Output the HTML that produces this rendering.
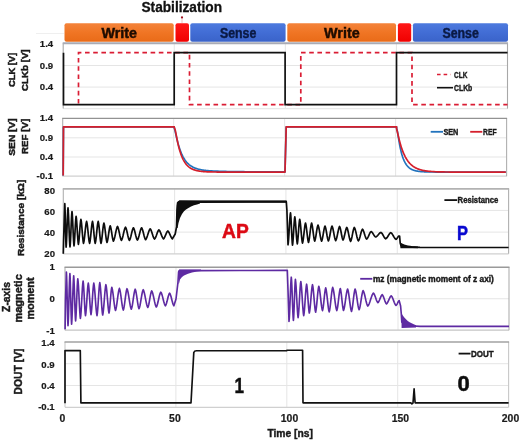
<!DOCTYPE html>
<html><head><meta charset="utf-8"><title>MTJ write/sense simulation waveforms</title>
<style>html,body{margin:0;padding:0;background:#fff;overflow:hidden;}svg{display:block;}</style>
</head><body>
<svg width="520" height="440" viewBox="0 0 520 440" font-family='"Liberation Sans", sans-serif'>
<rect width="520" height="440" fill="#fff"/>
<defs>
<linearGradient id="gOr" x1="0" y1="0" x2="0" y2="1">
 <stop offset="0" stop-color="#f4833a"/><stop offset="0.5" stop-color="#f07524"/><stop offset="1" stop-color="#e96b18"/>
</linearGradient>
<linearGradient id="gBl" x1="0" y1="0" x2="0" y2="1">
 <stop offset="0" stop-color="#4d7ade"/><stop offset="0.5" stop-color="#426dd5"/><stop offset="1" stop-color="#3a63c9"/>
</linearGradient>
<linearGradient id="gRd" x1="0" y1="0" x2="0" y2="1">
 <stop offset="0" stop-color="#ff1818"/><stop offset="1" stop-color="#f00000"/>
</linearGradient>
</defs>
<rect x="64.50" y="23.30" width="109.20" height="18.50" rx="2" fill="url(#gOr)"/>
<text x="119.30" y="37.90" font-size="14" font-weight="bold" fill="#1e0c00" stroke="#1e0c00" stroke-width="0.45" text-anchor="middle" textLength="35.6" lengthAdjust="spacingAndGlyphs">Write</text>
<rect x="175.50" y="23.30" width="13.50" height="18.50" rx="2" fill="url(#gRd)"/>
<rect x="190.30" y="23.30" width="95.30" height="18.50" rx="2" fill="url(#gBl)"/>
<text x="238.15" y="37.90" font-size="14" font-weight="bold" fill="#0b1a44" stroke="#0b1a44" stroke-width="0.45" text-anchor="middle" textLength="36.4" lengthAdjust="spacingAndGlyphs">Sense</text>
<rect x="287.30" y="23.30" width="108.70" height="18.50" rx="2" fill="url(#gOr)"/>
<text x="341.85" y="37.90" font-size="14" font-weight="bold" fill="#1e0c00" stroke="#1e0c00" stroke-width="0.45" text-anchor="middle" textLength="35.6" lengthAdjust="spacingAndGlyphs">Write</text>
<rect x="397.90" y="23.30" width="13.30" height="18.50" rx="2" fill="url(#gRd)"/>
<rect x="412.90" y="23.30" width="95.10" height="18.50" rx="2" fill="url(#gBl)"/>
<text x="460.65" y="37.90" font-size="14" font-weight="bold" fill="#0b1a44" stroke="#0b1a44" stroke-width="0.45" text-anchor="middle" textLength="36.4" lengthAdjust="spacingAndGlyphs">Sense</text>
<line x1="36" y1="33.5" x2="64" y2="33.5" stroke="#efefef" stroke-width="1"/>
<text x="141.50" y="12.40" font-size="14" font-weight="bold" fill="#111" stroke="#111" stroke-width="0.3" text-anchor="start" textLength="80.5" lengthAdjust="spacingAndGlyphs">Stabilization</text>
<line x1="182" y1="17.5" x2="182" y2="23" stroke="#eab0b0" stroke-width="0.8"/>
<circle cx="182" cy="17.4" r="1.1" fill="#a01020"/>
<line x1="63.2" y1="65.53" x2="507.5" y2="65.53" stroke="#e5e5e5" stroke-width="1"/>
<line x1="63.2" y1="87.07" x2="507.5" y2="87.07" stroke="#e5e5e5" stroke-width="1"/>
<line x1="174.28" y1="44.0" x2="174.28" y2="108.6" stroke="#e5e5e5" stroke-width="1"/>
<line x1="285.35" y1="44.0" x2="285.35" y2="108.6" stroke="#e5e5e5" stroke-width="1"/>
<line x1="396.43" y1="44.0" x2="396.43" y2="108.6" stroke="#e5e5e5" stroke-width="1"/>
<line x1="63.2" y1="108.6" x2="507.5" y2="108.6" stroke="#e8e8e8" stroke-width="1.2"/>
<line x1="63.2" y1="43.3" x2="63.2" y2="108.6" stroke="#a8a8a8" stroke-width="1.1"/>
<line x1="507.5" y1="43.3" x2="507.5" y2="108.6" stroke="#a8a8a8" stroke-width="1.1"/>
<line x1="62.7" y1="43.3" x2="508.0" y2="43.3" stroke="#a9abb5" stroke-width="2.0"/>
<text x="53.20" y="47.15" font-size="9.6" font-weight="bold" fill="#1a1a1a" stroke="#1a1a1a" stroke-width="0.2" text-anchor="end">1.4</text>
<text x="53.20" y="68.90" font-size="9.6" font-weight="bold" fill="#1a1a1a" stroke="#1a1a1a" stroke-width="0.2" text-anchor="end">0.9</text>
<text x="53.20" y="90.35" font-size="9.6" font-weight="bold" fill="#1a1a1a" stroke="#1a1a1a" stroke-width="0.2" text-anchor="end">0.4</text>
<text transform="translate(15.00,69.95) rotate(-90)" x="0" y="0" text-anchor="middle" font-size="9.2" font-weight="bold" fill="#1a1a1a" stroke="#1a1a1a" stroke-width="0.45" textLength="34.3" lengthAdjust="spacingAndGlyphs">CLK [V]</text>
<text transform="translate(27.60,70.15) rotate(-90)" x="0" y="0" text-anchor="middle" font-size="9.2" font-weight="bold" fill="#1a1a1a" stroke="#1a1a1a" stroke-width="0.45" textLength="41.5" lengthAdjust="spacingAndGlyphs">CLKb [V]</text>
<path d="M78.5,104.6 V52.7 H189.5 V104.6 H300.8 V52.7 H412.0 V104.6 H507.5" fill="none" stroke="#da1d34" stroke-width="1.7" stroke-dasharray="4.6,3.6" stroke-dashoffset="7.2"/>
<path d="M63.5,52.7 V104.6 H174.2 V52.7 H285.1 V104.6 H396.5 V52.7 H507.5" fill="none" stroke="#111" stroke-width="1.7"/>
<line x1="437" y1="74.6" x2="450.5" y2="74.6" stroke="#da1d34" stroke-width="1.5" stroke-dasharray="3.6,3"/>
<text x="454.00" y="77.60" font-size="8.6" font-weight="bold" fill="#1a1a1a" stroke="#1a1a1a" stroke-width="0.4" text-anchor="start" textLength="13.4" lengthAdjust="spacingAndGlyphs">CLK</text>
<line x1="437" y1="87.7" x2="453" y2="87.7" stroke="#111" stroke-width="1.6"/>
<text x="454.00" y="90.70" font-size="8.6" font-weight="bold" fill="#1a1a1a" stroke="#1a1a1a" stroke-width="0.4" text-anchor="start" textLength="18.3" lengthAdjust="spacingAndGlyphs">CLKb</text>
<line x1="62.7" y1="137.80" x2="506.6" y2="137.80" stroke="#e5e5e5" stroke-width="1"/>
<line x1="62.7" y1="157.00" x2="506.6" y2="157.00" stroke="#e5e5e5" stroke-width="1"/>
<line x1="173.68" y1="118.6" x2="173.68" y2="176.2" stroke="#e5e5e5" stroke-width="1"/>
<line x1="284.65" y1="118.6" x2="284.65" y2="176.2" stroke="#e5e5e5" stroke-width="1"/>
<line x1="395.62" y1="118.6" x2="395.62" y2="176.2" stroke="#e5e5e5" stroke-width="1"/>
<line x1="62.7" y1="176.2" x2="506.6" y2="176.2" stroke="#d0d0d0" stroke-width="1.2"/>
<line x1="62.7" y1="118.4" x2="62.7" y2="176.2" stroke="#b0b0b0" stroke-width="1.1"/>
<line x1="506.6" y1="118.4" x2="506.6" y2="176.2" stroke="#b0b0b0" stroke-width="1.1"/>
<line x1="62.2" y1="118.4" x2="507.1" y2="118.4" stroke="#929292" stroke-width="1.2"/>
<text x="53.00" y="121.45" font-size="9.6" font-weight="bold" fill="#1a1a1a" stroke="#1a1a1a" stroke-width="0.2" text-anchor="end">1.4</text>
<text x="53.00" y="141.05" font-size="9.6" font-weight="bold" fill="#1a1a1a" stroke="#1a1a1a" stroke-width="0.2" text-anchor="end">0.9</text>
<text x="53.00" y="160.05" font-size="9.6" font-weight="bold" fill="#1a1a1a" stroke="#1a1a1a" stroke-width="0.2" text-anchor="end">0.4</text>
<text x="53.00" y="179.35" font-size="9.6" font-weight="bold" fill="#1a1a1a" stroke="#1a1a1a" stroke-width="0.2" text-anchor="end">-0.1</text>
<text transform="translate(15.30,137.00) rotate(-90)" x="0" y="0" text-anchor="middle" font-size="9.2" font-weight="bold" fill="#1a1a1a" stroke="#1a1a1a" stroke-width="0.45" textLength="37.5" lengthAdjust="spacingAndGlyphs">SEN [V]</text>
<text transform="translate(27.90,136.40) rotate(-90)" x="0" y="0" text-anchor="middle" font-size="9.2" font-weight="bold" fill="#1a1a1a" stroke="#1a1a1a" stroke-width="0.45" textLength="35.2" lengthAdjust="spacingAndGlyphs">REF [V]</text>
<path d="M63.2,175.6 L63.5,126.9 L174.3,126.9 L174.30,128.38 L174.70,129.50 L175.10,130.98 L175.50,132.71 L175.90,134.52 L176.30,136.34 L176.70,138.09 L177.10,139.78 L177.50,141.38 L177.90,142.91 L178.30,144.36 L178.70,145.73 L179.10,147.03 L179.50,148.26 L179.90,149.43 L180.30,150.54 L180.70,151.59 L181.10,152.59 L181.50,153.54 L181.90,154.43 L182.30,155.28 L182.70,156.09 L183.10,156.86 L183.50,157.58 L183.90,158.27 L184.30,158.92 L184.70,159.54 L185.10,160.13 L185.50,160.68 L185.90,161.21 L186.30,161.71 L186.70,162.19 L187.10,162.64 L187.50,163.07 L187.90,163.48 L188.30,163.86 L188.70,164.23 L189.10,164.58 L189.50,164.91 L189.90,165.22 L190.30,165.52 L190.70,165.80 L191.10,166.07 L191.50,166.32 L191.90,166.56 L192.30,166.79 L192.70,167.01 L193.10,167.22 L193.50,167.42 L193.90,167.60 L194.30,167.78 L194.70,167.95 L195.10,168.11 L195.50,168.27 L195.90,168.41 L196.30,168.55 L196.70,168.68 L197.10,168.81 L197.50,168.93 L197.90,169.04 L198.30,169.15 L198.70,169.25 L199.10,169.35 L199.50,169.45 L199.90,169.53 L200.30,169.62 L200.70,169.70 L201.10,169.78 L201.50,169.85 L201.90,169.92 L202.30,169.99 L202.70,170.05 L203.10,170.11 L203.50,170.17 L203.90,170.23 L204.30,170.28 L204.70,170.33 L205.10,170.38 L205.50,170.43 L205.90,170.47 L206.30,170.52 L206.70,170.56 L207.10,170.60 L207.50,170.63 L207.90,170.67 L208.30,170.70 L208.70,170.74 L209.10,170.77 L209.50,170.80 L211.50,170.94 L213.50,171.05 L215.50,171.14 L217.50,171.22 L219.50,171.29 L221.50,171.35 L223.50,171.40 L225.50,171.45 L227.50,171.49 L229.50,171.52 L231.50,171.56 L233.50,171.59 L235.50,171.62 L237.50,171.64 L239.50,171.67 L241.50,171.69 L243.50,171.71 L245.50,171.73 L247.50,171.75 L249.50,171.77 L251.50,171.78 L253.50,171.80 L255.50,171.82 L257.50,171.83 L259.50,171.84 L261.50,171.86 L263.50,171.87 L265.50,171.88 L267.50,171.89 L269.50,171.90 L271.50,171.91 L273.50,171.92 L275.50,171.93 L277.50,171.94 L279.50,171.95 L281.50,171.95 L283.50,171.96 L285.0,172.1 L286.2,126.9 L396.6,126.9 L396.60,128.28 L397.00,129.50 L397.40,131.31 L397.80,133.60 L398.20,136.11 L398.60,138.66 L399.00,141.12 L399.40,143.43 L399.80,145.59 L400.20,147.58 L400.60,149.43 L401.00,151.14 L401.40,152.72 L401.80,154.18 L402.20,155.52 L402.60,156.77 L403.00,157.91 L403.40,158.98 L403.80,159.95 L404.20,160.86 L404.60,161.70 L405.00,162.47 L405.40,163.18 L405.80,163.84 L406.20,164.45 L406.60,165.01 L407.00,165.53 L407.40,166.02 L407.80,166.46 L408.20,166.87 L408.60,167.25 L409.00,167.60 L409.40,167.93 L409.80,168.23 L410.20,168.51 L410.60,168.77 L411.00,169.00 L411.40,169.22 L411.80,169.43 L412.20,169.62 L412.60,169.79 L413.00,169.95 L413.40,170.10 L413.80,170.24 L414.20,170.37 L414.60,170.49 L415.00,170.60 L415.40,170.71 L415.80,170.80 L416.20,170.89 L416.60,170.97 L417.00,171.05 L417.40,171.12 L417.80,171.18 L418.20,171.24 L418.60,171.30 L419.00,171.35 L419.40,171.40 L419.80,171.45 L420.20,171.49 L420.60,171.53 L421.00,171.56 L421.40,171.60 L421.80,171.63 L422.20,171.66 L422.60,171.68 L423.00,171.71 L423.40,171.73 L423.80,171.76 L424.20,171.78 L424.60,171.80 L425.00,171.81 L425.40,171.83 L425.80,171.85 L426.20,171.86 L426.60,171.87 L427.00,171.89 L427.40,171.90 L427.80,171.91 L428.20,171.92 L428.60,171.93 L429.00,171.94 L429.40,171.95 L429.80,171.96 L430.20,171.96 L430.60,171.97 L431.00,171.98 L431.40,171.98 L431.80,171.99 L433.80,172.02 L435.80,172.03 L437.80,172.05 L439.80,172.06 L441.80,172.07 L443.80,172.07 L445.80,172.08 L447.80,172.08 L449.80,172.09 L451.80,172.09 L453.80,172.09 L455.80,172.09 L457.80,172.09 L459.80,172.09 L461.80,172.10 L463.80,172.10 L465.80,172.10 L467.80,172.10 L469.80,172.10 L471.80,172.10 L473.80,172.10 L475.80,172.10 L477.80,172.10 L479.80,172.10 L481.80,172.10 L483.80,172.10 L485.80,172.10 L487.80,172.10 L489.80,172.10 L491.80,172.10 L493.80,172.10 L495.80,172.10 L497.80,172.10 L499.80,172.10 L501.80,172.10 L503.80,172.10 L505.80,172.10" fill="none" stroke="#2273bd" stroke-width="1.7" stroke-linejoin="round"/>
<path d="M63.2,175.6 L63.5,126.9 L174.3,126.9 L174.30,127.67 L174.70,128.42 L175.10,129.63 L175.50,131.31 L175.90,133.30 L176.30,135.41 L176.70,137.53 L177.10,139.58 L177.50,141.53 L177.90,143.38 L178.30,145.11 L178.70,146.75 L179.10,148.28 L179.50,149.72 L179.90,151.08 L180.30,152.35 L180.70,153.55 L181.10,154.67 L181.50,155.73 L181.90,156.72 L182.30,157.65 L182.70,158.53 L183.10,159.35 L183.50,160.12 L183.90,160.85 L184.30,161.53 L184.70,162.17 L185.10,162.77 L185.50,163.34 L185.90,163.87 L186.30,164.37 L186.70,164.84 L187.10,165.28 L187.50,165.69 L187.90,166.08 L188.30,166.44 L188.70,166.79 L189.10,167.11 L189.50,167.41 L189.90,167.69 L190.30,167.96 L190.70,168.21 L191.10,168.45 L191.50,168.67 L191.90,168.88 L192.30,169.07 L192.70,169.26 L193.10,169.43 L193.50,169.59 L193.90,169.74 L194.30,169.88 L194.70,170.02 L195.10,170.14 L195.50,170.26 L195.90,170.37 L196.30,170.48 L196.70,170.58 L197.10,170.67 L197.50,170.76 L197.90,170.84 L198.30,170.91 L198.70,170.99 L199.10,171.05 L199.50,171.12 L199.90,171.18 L200.30,171.23 L200.70,171.28 L201.10,171.33 L201.50,171.38 L201.90,171.42 L202.30,171.47 L202.70,171.50 L203.10,171.54 L203.50,171.57 L203.90,171.61 L204.30,171.64 L204.70,171.66 L205.10,171.69 L205.50,171.72 L205.90,171.74 L206.30,171.76 L206.70,171.78 L207.10,171.80 L207.50,171.82 L207.90,171.84 L208.30,171.85 L208.70,171.87 L209.10,171.88 L209.50,171.89 L211.50,171.95 L213.50,171.99 L215.50,172.02 L217.50,172.04 L219.50,172.06 L221.50,172.07 L223.50,172.08 L225.50,172.08 L227.50,172.09 L229.50,172.09 L231.50,172.09 L233.50,172.10 L235.50,172.10 L237.50,172.10 L239.50,172.10 L241.50,172.10 L243.50,172.10 L245.50,172.10 L247.50,172.10 L249.50,172.10 L251.50,172.10 L253.50,172.10 L255.50,172.10 L257.50,172.10 L259.50,172.10 L261.50,172.10 L263.50,172.10 L265.50,172.10 L267.50,172.10 L269.50,172.10 L271.50,172.10 L273.50,172.10 L275.50,172.10 L277.50,172.10 L279.50,172.10 L281.50,172.10 L283.50,172.10 L285.0,172.1 L286.2,126.9 L396.6,126.9 L396.60,129.07 L397.00,130.42 L397.40,132.03 L397.80,133.77 L398.20,135.53 L398.60,137.25 L399.00,138.92 L399.40,140.51 L399.80,142.03 L400.20,143.48 L400.60,144.85 L401.00,146.17 L401.40,147.42 L401.80,148.61 L402.20,149.74 L402.60,150.81 L403.00,151.84 L403.40,152.82 L403.80,153.75 L404.20,154.63 L404.60,155.47 L405.00,156.27 L405.40,157.04 L405.80,157.76 L406.20,158.45 L406.60,159.11 L407.00,159.74 L407.40,160.33 L407.80,160.90 L408.20,161.44 L408.60,161.95 L409.00,162.44 L409.40,162.91 L409.80,163.35 L410.20,163.77 L410.60,164.17 L411.00,164.55 L411.40,164.92 L411.80,165.26 L412.20,165.59 L412.60,165.91 L413.00,166.21 L413.40,166.49 L413.80,166.76 L414.20,167.02 L414.60,167.26 L415.00,167.49 L415.40,167.72 L415.80,167.93 L416.20,168.13 L416.60,168.32 L417.00,168.50 L417.40,168.68 L417.80,168.84 L418.20,169.00 L418.60,169.15 L419.00,169.29 L419.40,169.43 L419.80,169.55 L420.20,169.68 L420.60,169.79 L421.00,169.90 L421.40,170.01 L421.80,170.11 L422.20,170.21 L422.60,170.30 L423.00,170.38 L423.40,170.47 L423.80,170.55 L424.20,170.62 L424.60,170.69 L425.00,170.76 L425.40,170.82 L425.80,170.89 L426.20,170.94 L426.60,171.00 L427.00,171.05 L427.40,171.10 L427.80,171.15 L428.20,171.20 L428.60,171.24 L429.00,171.28 L429.40,171.32 L429.80,171.36 L430.20,171.39 L430.60,171.43 L431.00,171.46 L431.40,171.49 L431.80,171.52 L433.80,171.65 L435.80,171.75 L437.80,171.82 L439.80,171.88 L441.80,171.93 L443.80,171.97 L445.80,172.00 L447.80,172.02 L449.80,172.04 L451.80,172.05 L453.80,172.06 L455.80,172.07 L457.80,172.08 L459.80,172.08 L461.80,172.09 L463.80,172.09 L465.80,172.09 L467.80,172.09 L469.80,172.09 L471.80,172.10 L473.80,172.10 L475.80,172.10 L477.80,172.10 L479.80,172.10 L481.80,172.10 L483.80,172.10 L485.80,172.10 L487.80,172.10 L489.80,172.10 L491.80,172.10 L493.80,172.10 L495.80,172.10 L497.80,172.10 L499.80,172.10 L501.80,172.10 L503.80,172.10 L505.80,172.10" fill="none" stroke="#d51f2b" stroke-width="1.7" stroke-linejoin="round"/>
<line x1="430.7" y1="131.8" x2="443" y2="131.8" stroke="#2273bd" stroke-width="1.8"/>
<text x="443.40" y="134.80" font-size="8.6" font-weight="bold" fill="#1a1a1a" stroke="#1a1a1a" stroke-width="0.4" text-anchor="start" textLength="15" lengthAdjust="spacingAndGlyphs">SEN</text>
<line x1="470.2" y1="131.8" x2="482.3" y2="131.8" stroke="#d51f2b" stroke-width="1.8"/>
<text x="483.00" y="134.80" font-size="8.6" font-weight="bold" fill="#1a1a1a" stroke="#1a1a1a" stroke-width="0.4" text-anchor="start" textLength="13.6" lengthAdjust="spacingAndGlyphs">REF</text>
<line x1="63.3" y1="210.40" x2="508.6" y2="210.40" stroke="#e5e5e5" stroke-width="1"/>
<line x1="63.3" y1="232.10" x2="508.6" y2="232.10" stroke="#e5e5e5" stroke-width="1"/>
<line x1="174.62" y1="188.7" x2="174.62" y2="253.8" stroke="#e5e5e5" stroke-width="1"/>
<line x1="285.95" y1="188.7" x2="285.95" y2="253.8" stroke="#e5e5e5" stroke-width="1"/>
<line x1="397.28" y1="188.7" x2="397.28" y2="253.8" stroke="#e5e5e5" stroke-width="1"/>
<line x1="63.3" y1="253.8" x2="508.6" y2="253.8" stroke="#d0d0d0" stroke-width="1.2"/>
<line x1="63.3" y1="188.8" x2="63.3" y2="253.8" stroke="#b0b0b0" stroke-width="1.1"/>
<line x1="508.6" y1="188.8" x2="508.6" y2="253.8" stroke="#b0b0b0" stroke-width="1.1"/>
<line x1="62.8" y1="188.8" x2="509.1" y2="188.8" stroke="#b2b2b2" stroke-width="1.8"/>
<text x="55.00" y="193.95" font-size="9.6" font-weight="bold" fill="#1a1a1a" stroke="#1a1a1a" stroke-width="0.2" text-anchor="end">80</text>
<text x="55.00" y="215.25" font-size="9.6" font-weight="bold" fill="#1a1a1a" stroke="#1a1a1a" stroke-width="0.2" text-anchor="end">60</text>
<text x="55.00" y="236.45" font-size="9.6" font-weight="bold" fill="#1a1a1a" stroke="#1a1a1a" stroke-width="0.2" text-anchor="end">40</text>
<text x="55.00" y="257.05" font-size="9.6" font-weight="bold" fill="#1a1a1a" stroke="#1a1a1a" stroke-width="0.2" text-anchor="end">20</text>
<text transform="translate(23.60,217.90) rotate(-90)" x="0" y="0" text-anchor="middle" font-size="9.8" font-weight="bold" fill="#1a1a1a" stroke="#1a1a1a" stroke-width="0.45" textLength="76.3" lengthAdjust="spacingAndGlyphs">Resistance [kΩ]</text>
<path d="M63.3,253.8 L63.6,240 L64.80,203.70 L64.96,206.68 L65.12,211.65 L65.29,218.14 L65.45,225.45 L65.61,232.76 L65.77,239.25 L65.94,244.22 L66.10,247.20 L66.34,244.50 L66.57,240.00 L66.81,234.12 L67.05,227.50 L67.29,220.88 L67.53,215.00 L67.76,210.50 L68.00,207.80 L68.25,210.48 L68.50,214.96 L68.75,220.81 L69.00,227.40 L69.25,233.99 L69.50,239.84 L69.75,244.32 L70.00,247.00 L70.25,244.57 L70.50,240.51 L70.75,235.22 L71.00,229.25 L71.25,223.28 L71.50,217.99 L71.75,213.93 L72.00,211.50 L72.25,213.86 L72.50,217.78 L72.75,222.92 L73.00,228.70 L73.25,234.48 L73.50,239.62 L73.75,243.54 L74.00,245.90 L74.26,243.87 L74.53,240.49 L74.79,236.08 L75.05,231.10 L75.31,226.12 L75.57,221.71 L75.84,218.33 L76.10,216.30 L76.39,218.22 L76.67,221.43 L76.96,225.63 L77.25,230.35 L77.54,235.07 L77.83,239.27 L78.11,242.48 L78.40,244.40 L78.71,242.68 L79.03,239.81 L79.34,236.07 L79.65,231.85 L79.96,227.63 L80.28,223.89 L80.59,221.02 L80.90,219.30 L81.23,220.95 L81.55,223.70 L81.88,227.30 L82.20,231.35 L82.53,235.40 L82.85,239.00 L83.17,241.75 L83.50,243.40 L83.89,241.89 L84.28,239.38 L84.66,236.10 L85.05,232.40 L85.44,228.70 L85.82,225.42 L86.21,222.91 L86.60,221.40 L86.97,222.91 L87.35,225.42 L87.72,228.70 L88.10,232.40 L88.47,236.10 L88.85,239.38 L89.22,241.89 L89.60,243.40 L89.96,241.89 L90.32,239.38 L90.69,236.10 L91.05,232.40 L91.41,228.70 L91.78,225.42 L92.14,222.91 L92.50,221.40 L92.84,222.91 L93.17,225.42 L93.51,228.70 L93.85,232.40 L94.19,236.10 L94.53,239.38 L94.86,241.89 L95.20,243.40 L95.58,241.89 L95.95,239.38 L96.33,236.10 L96.70,232.40 L97.08,228.70 L97.45,225.42 L97.83,222.91 L98.20,221.40 L98.55,222.91 L98.90,225.42 L99.25,228.70 L99.60,232.40 L99.95,236.10 L100.30,239.38 L100.65,241.89 L101.00,243.40 L101.36,242.01 L101.72,239.69 L102.09,236.66 L102.45,233.25 L102.81,229.84 L103.18,226.81 L103.54,224.49 L103.90,223.10 L104.29,224.42 L104.68,226.63 L105.06,229.51 L105.45,232.75 L105.84,235.99 L106.22,238.87 L106.61,241.08 L107.00,242.40 L107.40,241.26 L107.80,239.37 L108.20,236.89 L108.60,234.10 L109.00,231.31 L109.40,228.83 L109.80,226.94 L110.20,225.80 L110.60,226.85 L111.00,228.60 L111.40,230.88 L111.80,233.45 L112.20,236.02 L112.60,238.30 L113.00,240.05 L113.40,241.10 L113.91,240.10 L114.43,238.43 L114.94,236.25 L115.45,233.80 L115.96,231.35 L116.47,229.17 L116.99,227.50 L117.50,226.50 L117.99,227.45 L118.47,229.04 L118.96,231.11 L119.45,233.45 L119.94,235.79 L120.43,237.86 L120.91,239.45 L121.40,240.40 L121.91,239.50 L122.43,237.99 L122.94,236.02 L123.45,233.80 L123.96,231.58 L124.47,229.61 L124.99,228.10 L125.50,227.20 L125.99,228.10 L126.47,229.61 L126.96,231.58 L127.45,233.80 L127.94,236.02 L128.43,237.99 L128.91,239.50 L129.40,240.40 L129.90,239.54 L130.40,238.10 L130.90,236.22 L131.40,234.10 L131.90,231.98 L132.40,230.10 L132.90,228.66 L133.40,227.80 L133.90,228.64 L134.40,230.05 L134.90,231.88 L135.40,233.95 L135.90,236.02 L136.40,237.85 L136.90,239.26 L137.40,240.10 L137.93,239.26 L138.45,237.85 L138.97,236.02 L139.50,233.95 L140.03,231.88 L140.55,230.05 L141.07,228.64 L141.60,227.80 L142.10,228.62 L142.60,229.97 L143.10,231.75 L143.60,233.75 L144.10,235.75 L144.60,237.53 L145.10,238.88 L145.60,239.70 L146.17,238.95 L146.75,237.71 L147.32,236.08 L147.90,234.25 L148.47,232.42 L149.05,230.79 L149.62,229.55 L150.20,228.80 L150.74,229.50 L151.27,230.66 L151.81,232.19 L152.35,233.90 L152.89,235.61 L153.43,237.14 L153.96,238.30 L154.50,239.00 L155.05,238.38 L155.60,237.34 L156.15,235.98 L156.70,234.45 L157.25,232.92 L157.80,231.56 L158.35,230.52 L158.90,229.90 L159.47,230.51 L160.05,231.53 L160.62,232.85 L161.20,234.35 L161.78,235.85 L162.35,237.17 L162.93,238.19 L163.50,238.80 L164.04,238.27 L164.57,237.38 L165.11,236.21 L165.65,234.90 L166.19,233.59 L166.73,232.42 L167.26,231.53 L167.80,231.00 L168.38,231.53 L168.95,232.42 L169.53,233.59 L170.10,234.90 L170.68,236.21 L171.25,237.38 L171.83,238.27 L172.40,238.80 L175.2,234 L176.5,227 L177.0,210 L177.6,203 L179.5,201.4 L200,201.7 L230,201.7 L260,201.7 L286.3,201.7 L286.9,210 L288.0,244.8 L288.00,244.80 L288.31,242.61 L288.62,238.95 L288.94,234.18 L289.25,228.80 L289.56,223.42 L289.88,218.65 L290.19,214.99 L290.50,212.80 L290.75,215.02 L291.00,218.72 L291.25,223.55 L291.50,229.00 L291.75,234.45 L292.00,239.28 L292.25,242.98 L292.50,245.20 L292.79,243.26 L293.07,240.03 L293.36,235.81 L293.65,231.05 L293.94,226.29 L294.23,222.07 L294.51,218.84 L294.80,216.90 L295.11,218.74 L295.43,221.81 L295.74,225.83 L296.05,230.35 L296.36,234.87 L296.68,238.89 L296.99,241.96 L297.30,243.80 L297.60,242.12 L297.90,239.32 L298.20,235.67 L298.50,231.55 L298.80,227.43 L299.10,223.78 L299.40,220.98 L299.70,219.30 L300.05,220.93 L300.40,223.65 L300.75,227.20 L301.10,231.20 L301.45,235.20 L301.80,238.75 L302.15,241.47 L302.50,243.10 L302.88,241.73 L303.25,239.45 L303.62,236.46 L304.00,233.10 L304.38,229.74 L304.75,226.75 L305.12,224.47 L305.50,223.10 L305.88,224.42 L306.25,226.63 L306.62,229.51 L307.00,232.75 L307.38,235.99 L307.75,238.87 L308.12,241.08 L308.50,242.40 L308.89,241.08 L309.27,238.87 L309.66,235.99 L310.05,232.75 L310.44,229.51 L310.83,226.63 L311.21,224.42 L311.60,223.10 L311.99,224.33 L312.38,226.39 L312.76,229.07 L313.15,232.10 L313.54,235.13 L313.93,237.81 L314.31,239.87 L314.70,241.10 L315.11,240.00 L315.52,238.18 L315.94,235.79 L316.35,233.10 L316.76,230.41 L317.18,228.02 L317.59,226.20 L318.00,225.10 L318.45,226.20 L318.90,228.02 L319.35,230.41 L319.80,233.10 L320.25,235.79 L320.70,238.18 L321.15,240.00 L321.60,241.10 L322.03,240.07 L322.45,238.36 L322.88,236.12 L323.30,233.60 L323.73,231.08 L324.15,228.84 L324.57,227.13 L325.00,226.10 L325.43,227.11 L325.85,228.80 L326.27,231.01 L326.70,233.50 L327.12,235.99 L327.55,238.20 L327.97,239.89 L328.40,240.90 L328.85,239.89 L329.30,238.20 L329.75,235.99 L330.20,233.50 L330.65,231.01 L331.10,228.80 L331.55,227.11 L332.00,226.10 L332.46,227.10 L332.93,228.77 L333.39,230.95 L333.85,233.40 L334.31,235.85 L334.77,238.03 L335.24,239.70 L335.70,240.70 L336.19,239.73 L336.68,238.11 L337.16,235.99 L337.65,233.60 L338.14,231.21 L338.62,229.09 L339.11,227.47 L339.60,226.50 L340.03,227.42 L340.45,228.97 L340.88,230.98 L341.30,233.25 L341.73,235.52 L342.15,237.53 L342.57,239.08 L343.00,240.00 L343.48,239.14 L343.95,237.70 L344.43,235.82 L344.90,233.70 L345.38,231.58 L345.85,229.70 L346.32,228.26 L346.80,227.40 L347.28,228.36 L347.75,229.96 L348.23,232.05 L348.70,234.40 L349.18,236.75 L349.65,238.84 L350.12,240.44 L350.60,241.40 L351.06,240.44 L351.53,238.84 L351.99,236.75 L352.45,234.40 L352.91,232.05 L353.38,229.96 L353.84,228.36 L354.30,227.40 L354.81,228.32 L355.32,229.87 L355.84,231.88 L356.35,234.15 L356.86,236.42 L357.38,238.43 L357.89,239.98 L358.40,240.90 L358.91,240.10 L359.42,238.76 L359.94,237.02 L360.45,235.05 L360.96,233.08 L361.48,231.34 L361.99,230.00 L362.50,229.20 L363.01,229.88 L363.52,231.01 L364.04,232.49 L364.55,234.15 L365.06,235.81 L365.58,237.29 L366.09,238.42 L366.60,239.10 L367.16,238.58 L367.73,237.71 L368.29,236.58 L368.85,235.30 L369.41,234.02 L369.98,232.89 L370.54,232.02 L371.10,231.50 L371.68,231.88 L372.25,232.50 L372.82,233.33 L373.40,234.25 L373.98,235.17 L374.55,236.00 L375.12,236.62 L375.70,237.00 L376.35,236.68 L377.00,236.16 L377.65,235.47 L378.30,234.70 L378.95,233.93 L379.60,233.24 L380.25,232.72 L380.90,232.40 L381.50,232.84 L382.10,233.57 L382.70,234.52 L383.30,235.60 L383.90,236.68 L384.50,237.63 L385.10,238.36 L385.70,238.80 L386.34,238.38 L386.98,237.67 L387.61,236.74 L388.25,235.70 L388.89,234.66 L389.52,233.73 L390.16,233.02 L390.80,232.60 L391.45,233.07 L392.10,233.84 L392.75,234.86 L393.40,236.00 L394.05,237.14 L394.70,238.16 L395.35,238.93 L396.00,239.40 L396.36,239.17 L396.73,238.78 L397.09,238.27 L397.45,237.70 L397.81,237.13 L398.17,236.62 L398.54,236.23 L398.90,236.00 L399.6,236 L400.2,243 L401,245.8 L405,246.8 L420,247.4 L508.6,247.5" fill="none" stroke="#0d0d0d" stroke-width="1.7" stroke-linejoin="round"/>
<path d="M176.6,228 L176.8,205 L177.8,201.5 L179.5,200.4 L200,200.6 L200,203.6 L197,204.4 L194,205.3 L191,206.4 L188,208.2 L186,209.4 L184,211.2 L182,214 L180,218 L178.5,223 L177.6,228 Z" fill="#0d0d0d"/>
<path d="M200,200.6 L286.6,200.6 L286.6,202.8 L200,202.9 Z" fill="#0d0d0d"/>
<path d="M400.2,242.5 L400.4,248.3 L418,248.3 L418,246.6 C410,246 405,245.5 401.2,243 Z" fill="#0d0d0d"/>
<line x1="444.4" y1="200.1" x2="457.2" y2="200.1" stroke="#111" stroke-width="1.8"/>
<text x="457.60" y="203.20" font-size="8.5" font-weight="bold" fill="#1a1a1a" stroke="#1a1a1a" stroke-width="0.4" text-anchor="start" textLength="40.7" lengthAdjust="spacingAndGlyphs">Resistance</text>
<text x="222.10" y="238.00" font-size="20.5" font-weight="bold" fill="#dc0a14" stroke="#dc0a14" stroke-width="0.5" text-anchor="start" textLength="26.7" lengthAdjust="spacingAndGlyphs">AP</text>
<text x="456.90" y="240.00" font-size="21" font-weight="bold" fill="#0808d0" stroke="#0808d0" stroke-width="0.5" text-anchor="start" textLength="11" lengthAdjust="spacingAndGlyphs">P</text>
<line x1="65.0" y1="298.75" x2="509.0" y2="298.75" stroke="#e5e5e5" stroke-width="1"/>
<line x1="176.00" y1="267.3" x2="176.00" y2="330.2" stroke="#e5e5e5" stroke-width="1"/>
<line x1="287.00" y1="267.3" x2="287.00" y2="330.2" stroke="#e5e5e5" stroke-width="1"/>
<line x1="398.00" y1="267.3" x2="398.00" y2="330.2" stroke="#e5e5e5" stroke-width="1"/>
<line x1="65.0" y1="330.2" x2="509.0" y2="330.2" stroke="#c4c4c4" stroke-width="1.2"/>
<line x1="65.0" y1="267.15" x2="65.0" y2="330.2" stroke="#b0b0b0" stroke-width="1.1"/>
<line x1="509.0" y1="267.15" x2="509.0" y2="330.2" stroke="#b0b0b0" stroke-width="1.1"/>
<line x1="64.5" y1="267.15" x2="509.5" y2="267.15" stroke="#9a9a9a" stroke-width="1.5"/>
<text x="54.80" y="270.35" font-size="9.6" font-weight="bold" fill="#1a1a1a" stroke="#1a1a1a" stroke-width="0.2" text-anchor="end">1</text>
<text x="54.80" y="302.25" font-size="9.6" font-weight="bold" fill="#1a1a1a" stroke="#1a1a1a" stroke-width="0.2" text-anchor="end">0</text>
<text x="54.80" y="333.65" font-size="9.6" font-weight="bold" fill="#1a1a1a" stroke="#1a1a1a" stroke-width="0.2" text-anchor="end">-1</text>
<text transform="translate(9.80,297.00) rotate(-90)" x="0" y="0" text-anchor="middle" font-size="10.3" font-weight="bold" fill="#1a1a1a" stroke="#1a1a1a" stroke-width="0.45" textLength="29.9" lengthAdjust="spacingAndGlyphs">Z-axis</text>
<text transform="translate(22.20,298.40) rotate(-90)" x="0" y="0" text-anchor="middle" font-size="10.3" font-weight="bold" fill="#1a1a1a" stroke="#1a1a1a" stroke-width="0.45" textLength="48.4" lengthAdjust="spacingAndGlyphs">magnetic</text>
<text transform="translate(34.20,298.50) rotate(-90)" x="0" y="0" text-anchor="middle" font-size="10.3" font-weight="bold" fill="#1a1a1a" stroke="#1a1a1a" stroke-width="0.45" textLength="42.1" lengthAdjust="spacingAndGlyphs">moment</text>
<path d="M65.1,329.3 L65.5,300 L66.40,272.00 L66.60,275.68 L66.80,281.81 L67.00,289.82 L67.20,298.85 L67.40,307.88 L67.60,315.89 L67.80,322.02 L68.00,325.70 L68.24,322.13 L68.47,316.18 L68.71,308.41 L68.95,299.65 L69.19,290.89 L69.43,283.12 L69.66,277.17 L69.90,273.60 L70.11,277.06 L70.33,282.83 L70.54,290.36 L70.75,298.85 L70.96,307.34 L71.17,314.87 L71.39,320.64 L71.60,324.10 L71.86,320.80 L72.12,315.29 L72.39,308.10 L72.65,300.00 L72.91,291.90 L73.17,284.71 L73.44,279.20 L73.70,275.90 L73.94,278.98 L74.17,284.12 L74.41,290.83 L74.65,298.40 L74.89,305.97 L75.12,312.68 L75.36,317.82 L75.60,320.90 L75.88,318.02 L76.15,313.21 L76.42,306.93 L76.70,299.85 L76.97,292.77 L77.25,286.49 L77.52,281.68 L77.80,278.80 L78.12,281.52 L78.45,286.05 L78.78,291.98 L79.10,298.65 L79.42,305.32 L79.75,311.25 L80.08,315.78 L80.40,318.50 L80.74,315.93 L81.08,311.65 L81.41,306.05 L81.75,299.75 L82.09,293.45 L82.42,287.85 L82.76,283.57 L83.10,281.00 L83.40,283.38 L83.70,287.34 L84.00,292.52 L84.30,298.35 L84.60,304.18 L84.90,309.36 L85.20,313.32 L85.50,315.70 L85.85,313.47 L86.20,309.74 L86.55,304.88 L86.90,299.40 L87.25,293.92 L87.60,289.06 L87.95,285.33 L88.30,283.10 L88.64,285.26 L88.97,288.85 L89.31,293.55 L89.65,298.85 L89.99,304.15 L90.33,308.85 L90.66,312.44 L91.00,314.60 L91.35,312.44 L91.70,308.85 L92.05,304.15 L92.40,298.85 L92.75,293.55 L93.10,288.85 L93.45,285.26 L93.80,283.10 L94.20,285.33 L94.60,289.06 L95.00,293.92 L95.40,299.40 L95.80,304.88 L96.20,309.74 L96.60,313.47 L97.00,315.70 L97.35,313.43 L97.70,309.65 L98.05,304.71 L98.40,299.15 L98.75,293.59 L99.10,288.65 L99.45,284.87 L99.80,282.60 L100.16,284.82 L100.53,288.52 L100.89,293.35 L101.25,298.80 L101.61,304.25 L101.97,309.08 L102.34,312.78 L102.70,315.00 L103.10,312.92 L103.50,309.46 L103.90,304.94 L104.30,299.85 L104.70,294.76 L105.10,290.24 L105.50,286.78 L105.90,284.70 L106.29,286.64 L106.68,289.87 L107.06,294.09 L107.45,298.85 L107.84,303.61 L108.22,307.83 L108.61,311.06 L109.00,313.00 L109.35,311.24 L109.70,308.30 L110.05,304.47 L110.40,300.15 L110.75,295.83 L111.10,292.00 L111.45,289.06 L111.80,287.30 L112.26,288.88 L112.72,291.52 L113.19,294.97 L113.65,298.85 L114.11,302.73 L114.58,306.18 L115.04,308.82 L115.50,310.40 L115.99,308.89 L116.47,306.38 L116.96,303.10 L117.45,299.40 L117.94,295.70 L118.43,292.42 L118.91,289.91 L119.40,288.40 L119.89,289.89 L120.38,292.36 L120.86,295.60 L121.35,299.25 L121.84,302.90 L122.33,306.14 L122.81,308.61 L123.30,310.10 L123.76,308.63 L124.22,306.19 L124.69,303.00 L125.15,299.40 L125.61,295.80 L126.08,292.61 L126.54,290.17 L127.00,288.70 L127.54,290.10 L128.07,292.45 L128.61,295.50 L129.15,298.95 L129.69,302.40 L130.23,305.45 L130.76,307.80 L131.30,309.20 L131.79,307.83 L132.28,305.55 L132.76,302.56 L133.25,299.20 L133.74,295.84 L134.22,292.85 L134.71,290.57 L135.20,289.20 L135.67,290.54 L136.15,292.76 L136.62,295.67 L137.10,298.95 L137.57,302.23 L138.05,305.14 L138.53,307.36 L139.00,308.70 L139.53,307.40 L140.05,305.23 L140.57,302.39 L141.10,299.20 L141.62,296.01 L142.15,293.17 L142.67,291.00 L143.20,289.70 L143.77,290.92 L144.35,292.95 L144.93,295.61 L145.50,298.60 L146.07,301.59 L146.65,304.25 L147.23,306.28 L147.80,307.50 L148.29,306.36 L148.78,304.47 L149.26,301.99 L149.75,299.20 L150.24,296.41 L150.72,293.93 L151.21,292.04 L151.70,290.90 L152.27,292.00 L152.85,293.84 L153.43,296.24 L154.00,298.95 L154.57,301.66 L155.15,304.06 L155.73,305.90 L156.30,307.00 L156.86,305.98 L157.43,304.28 L157.99,302.06 L158.55,299.55 L159.11,297.04 L159.68,294.82 L160.24,293.12 L160.80,292.10 L161.38,293.04 L161.95,294.60 L162.53,296.65 L163.10,298.95 L163.68,301.25 L164.25,303.30 L164.83,304.86 L165.40,305.80 L165.93,304.93 L166.45,303.48 L166.97,301.59 L167.50,299.45 L168.03,297.31 L168.55,295.42 L169.07,293.97 L169.60,293.10 L170.14,293.97 L170.68,295.42 L171.21,297.31 L171.75,299.45 L172.29,301.59 L172.82,303.48 L173.36,304.93 L173.90,305.80 L176.0,299 L177.9,283 L178.6,272 L179.4,270.6 L200,270.6 L240,270.5 L287.3,270.4 L288.0,290 L289.0,321.5 L289.00,321.50 L289.29,318.47 L289.57,313.41 L289.86,306.80 L290.15,299.35 L290.44,291.90 L290.73,285.29 L291.01,280.23 L291.30,277.20 L291.56,280.16 L291.82,285.09 L292.09,291.54 L292.35,298.80 L292.61,306.06 L292.88,312.51 L293.14,317.44 L293.40,320.40 L293.65,317.59 L293.90,312.91 L294.15,306.79 L294.40,299.90 L294.65,293.01 L294.90,286.89 L295.15,282.21 L295.40,279.40 L295.74,282.02 L296.07,286.40 L296.41,292.11 L296.75,298.55 L297.09,304.99 L297.43,310.70 L297.76,315.08 L298.10,317.70 L298.44,315.22 L298.78,311.09 L299.11,305.69 L299.45,299.60 L299.79,293.51 L300.12,288.11 L300.46,283.98 L300.80,281.50 L301.16,283.84 L301.52,287.75 L301.89,292.85 L302.25,298.60 L302.61,304.35 L302.98,309.45 L303.34,313.36 L303.70,315.70 L304.06,313.54 L304.43,309.95 L304.79,305.25 L305.15,299.95 L305.51,294.65 L305.88,289.95 L306.24,286.36 L306.60,284.20 L306.94,286.17 L307.28,289.46 L307.61,293.76 L307.95,298.60 L308.29,303.44 L308.62,307.74 L308.96,311.03 L309.30,313.00 L309.70,311.06 L310.10,307.83 L310.50,303.61 L310.90,298.85 L311.30,294.09 L311.70,289.87 L312.10,286.64 L312.50,284.70 L312.89,286.58 L313.27,289.72 L313.66,293.83 L314.05,298.45 L314.44,303.07 L314.83,307.18 L315.21,310.32 L315.60,312.20 L316.00,310.43 L316.40,307.47 L316.80,303.60 L317.20,299.25 L317.60,294.90 L318.00,291.03 L318.40,288.07 L318.80,286.30 L319.26,287.96 L319.73,290.74 L320.19,294.36 L320.65,298.45 L321.11,302.54 L321.57,306.16 L322.04,308.94 L322.50,310.60 L322.90,309.05 L323.30,306.45 L323.70,303.07 L324.10,299.25 L324.50,295.43 L324.90,292.05 L325.30,289.45 L325.70,287.90 L326.14,289.54 L326.57,292.28 L327.01,295.87 L327.45,299.90 L327.89,303.93 L328.32,307.52 L328.76,310.26 L329.20,311.90 L329.64,310.22 L330.07,307.42 L330.51,303.77 L330.95,299.65 L331.39,295.53 L331.82,291.88 L332.26,289.08 L332.70,287.40 L333.21,288.99 L333.73,291.64 L334.24,295.10 L334.75,299.00 L335.26,302.90 L335.77,306.36 L336.29,309.01 L336.80,310.60 L337.24,309.09 L337.68,306.56 L338.11,303.27 L338.55,299.55 L338.99,295.83 L339.43,292.54 L339.86,290.01 L340.30,288.50 L340.70,290.01 L341.10,292.52 L341.50,295.80 L341.90,299.50 L342.30,303.20 L342.70,306.48 L343.10,308.99 L343.50,310.50 L344.01,309.03 L344.52,306.57 L345.04,303.36 L345.55,299.75 L346.06,296.14 L346.58,292.93 L347.09,290.47 L347.60,289.00 L348.09,290.53 L348.58,293.09 L349.06,296.43 L349.55,300.20 L350.04,303.97 L350.52,307.31 L351.01,309.87 L351.50,311.40 L351.95,309.87 L352.40,307.31 L352.85,303.97 L353.30,300.20 L353.75,296.43 L354.20,293.09 L354.65,290.53 L355.10,289.00 L355.60,290.42 L356.10,292.78 L356.60,295.87 L357.10,299.35 L357.60,302.83 L358.10,305.92 L358.60,308.28 L359.10,309.70 L359.60,308.39 L360.10,306.21 L360.60,303.36 L361.10,300.15 L361.60,296.94 L362.10,294.09 L362.60,291.91 L363.10,290.60 L363.69,291.66 L364.28,293.43 L364.86,295.74 L365.45,298.35 L366.04,300.96 L366.62,303.27 L367.21,305.04 L367.80,306.10 L368.50,305.21 L369.20,303.73 L369.90,301.79 L370.60,299.60 L371.30,297.41 L372.00,295.47 L372.70,293.99 L373.40,293.10 L373.96,293.75 L374.52,294.84 L375.09,296.25 L375.65,297.85 L376.21,299.45 L376.77,300.86 L377.34,301.95 L377.90,302.60 L378.44,302.06 L378.97,301.16 L379.51,299.98 L380.05,298.65 L380.59,297.32 L381.12,296.14 L381.66,295.24 L382.20,294.70 L382.74,295.33 L383.27,296.38 L383.81,297.75 L384.35,299.30 L384.89,300.85 L385.43,302.22 L385.96,303.27 L386.50,303.90 L387.09,303.35 L387.68,302.42 L388.26,301.21 L388.85,299.85 L389.44,298.49 L390.02,297.28 L390.61,296.35 L391.20,295.80 L391.80,296.46 L392.40,297.55 L393.00,298.99 L393.60,300.60 L394.20,302.21 L394.80,303.65 L395.40,304.74 L396.00,305.40 L396.40,305.07 L396.80,304.52 L397.20,303.81 L397.60,303.00 L398.00,302.19 L398.40,301.48 L398.80,300.93 L399.20,300.60 L400.6,306 L401.3,314 L401.8,322 L406,325.5 L420,326.4 L509,326.4" fill="none" stroke="#5e2aa2" stroke-width="1.65" stroke-linejoin="round"/>
<path d="M178.4,271 L178.6,284 L179.2,283 L180,279.5 L182,277 L184,275.4 L188,273.8 L192,272.5 L197,271.5 L201,271.1 L201,269.6 L179.2,269.6 Z" fill="#5e2aa2"/>
<path d="M401.4,313 L401.6,328 L416,327.5 L416,325.2 C410,323 405,320 401.4,313 Z" fill="#5e2aa2"/>
<line x1="360.2" y1="278.8" x2="372.3" y2="278.8" stroke="#5e2aa2" stroke-width="1.8"/>
<text x="372.90" y="281.60" font-size="8.4" font-weight="bold" fill="#1a1a1a" stroke="#1a1a1a" stroke-width="0.4" text-anchor="start" textLength="121" lengthAdjust="spacingAndGlyphs">mz (magnetic moment of z axi)</text>
<line x1="65.0" y1="363.70" x2="508.6" y2="363.70" stroke="#e5e5e5" stroke-width="1"/>
<line x1="65.0" y1="385.50" x2="508.6" y2="385.50" stroke="#e5e5e5" stroke-width="1"/>
<line x1="175.90" y1="341.9" x2="175.90" y2="407.3" stroke="#e5e5e5" stroke-width="1"/>
<line x1="286.80" y1="341.9" x2="286.80" y2="407.3" stroke="#e5e5e5" stroke-width="1"/>
<line x1="397.70" y1="341.9" x2="397.70" y2="407.3" stroke="#e5e5e5" stroke-width="1"/>
<line x1="65.0" y1="407.3" x2="508.6" y2="407.3" stroke="#d0d0d0" stroke-width="1.2"/>
<line x1="65.0" y1="342.0" x2="65.0" y2="407.3" stroke="#c8c8c8" stroke-width="1.1"/>
<line x1="508.6" y1="342.0" x2="508.6" y2="407.3" stroke="#c8c8c8" stroke-width="1.1"/>
<line x1="64.5" y1="342.0" x2="509.1" y2="342.0" stroke="#a2a2a2" stroke-width="1.7"/>
<text x="54.70" y="345.75" font-size="9.6" font-weight="bold" fill="#1a1a1a" stroke="#1a1a1a" stroke-width="0.2" text-anchor="end">1.4</text>
<text x="54.70" y="367.55" font-size="9.6" font-weight="bold" fill="#1a1a1a" stroke="#1a1a1a" stroke-width="0.2" text-anchor="end">0.9</text>
<text x="54.70" y="388.95" font-size="9.6" font-weight="bold" fill="#1a1a1a" stroke="#1a1a1a" stroke-width="0.2" text-anchor="end">0.4</text>
<text x="54.70" y="410.25" font-size="9.6" font-weight="bold" fill="#1a1a1a" stroke="#1a1a1a" stroke-width="0.2" text-anchor="end">-0.1</text>
<text transform="translate(21.50,371.50) rotate(-90)" x="0" y="0" text-anchor="middle" font-size="10.3" font-weight="bold" fill="#1a1a1a" stroke="#1a1a1a" stroke-width="0.45" textLength="46.1" lengthAdjust="spacingAndGlyphs">DOUT [V]</text>
<path d="M65.0,403.2 L65.0,350.6 L80.3,350.6 L80.9,402.9 L191.0,402.9 L193.8,352.4 Q194.4,350.7 196.5,350.7 L286.7,350.7 L287.2,350.2 L302.6,350.2 L303.0,402.8 L410.8,402.8 L411.9,403.8 L413.0,403 L414.1,388.9 L415.1,402.8 L508.6,402.8" fill="none" stroke="#111" stroke-width="1.65" stroke-linejoin="round"/>
<line x1="458.6" y1="353.6" x2="470.5" y2="353.6" stroke="#111" stroke-width="1.8"/>
<text x="471.00" y="356.50" font-size="8.6" font-weight="bold" fill="#1a1a1a" stroke="#1a1a1a" stroke-width="0.4" text-anchor="start" textLength="22.7" lengthAdjust="spacingAndGlyphs">DOUT</text>
<text x="239.30" y="392.50" font-size="22" font-weight="bold" fill="#0d0d0d" stroke="#0d0d0d" stroke-width="0.5" text-anchor="middle" textLength="9.5" lengthAdjust="spacingAndGlyphs">1</text>
<text x="463.60" y="390.50" font-size="22" font-weight="bold" fill="#0d0d0d" stroke="#0d0d0d" stroke-width="0.5" text-anchor="middle">0</text>
<text x="62.40" y="422.30" font-size="10.4" font-weight="bold" fill="#1a1a1a" stroke="#1a1a1a" stroke-width="0.2" text-anchor="middle">0</text>
<text x="174.90" y="422.30" font-size="10.4" font-weight="bold" fill="#1a1a1a" stroke="#1a1a1a" stroke-width="0.2" text-anchor="middle">50</text>
<text x="289.50" y="422.30" font-size="10.4" font-weight="bold" fill="#1a1a1a" stroke="#1a1a1a" stroke-width="0.2" text-anchor="middle">100</text>
<text x="400.30" y="422.30" font-size="10.4" font-weight="bold" fill="#1a1a1a" stroke="#1a1a1a" stroke-width="0.2" text-anchor="middle">150</text>
<text x="510.50" y="422.30" font-size="10.4" font-weight="bold" fill="#1a1a1a" stroke="#1a1a1a" stroke-width="0.2" text-anchor="middle">200</text>
<text x="290.20" y="437.20" font-size="10.3" font-weight="bold" fill="#1a1a1a" stroke="#1a1a1a" stroke-width="0.4" text-anchor="middle" textLength="45.6" lengthAdjust="spacingAndGlyphs">Time [ns]</text>
</svg>
</body></html>
